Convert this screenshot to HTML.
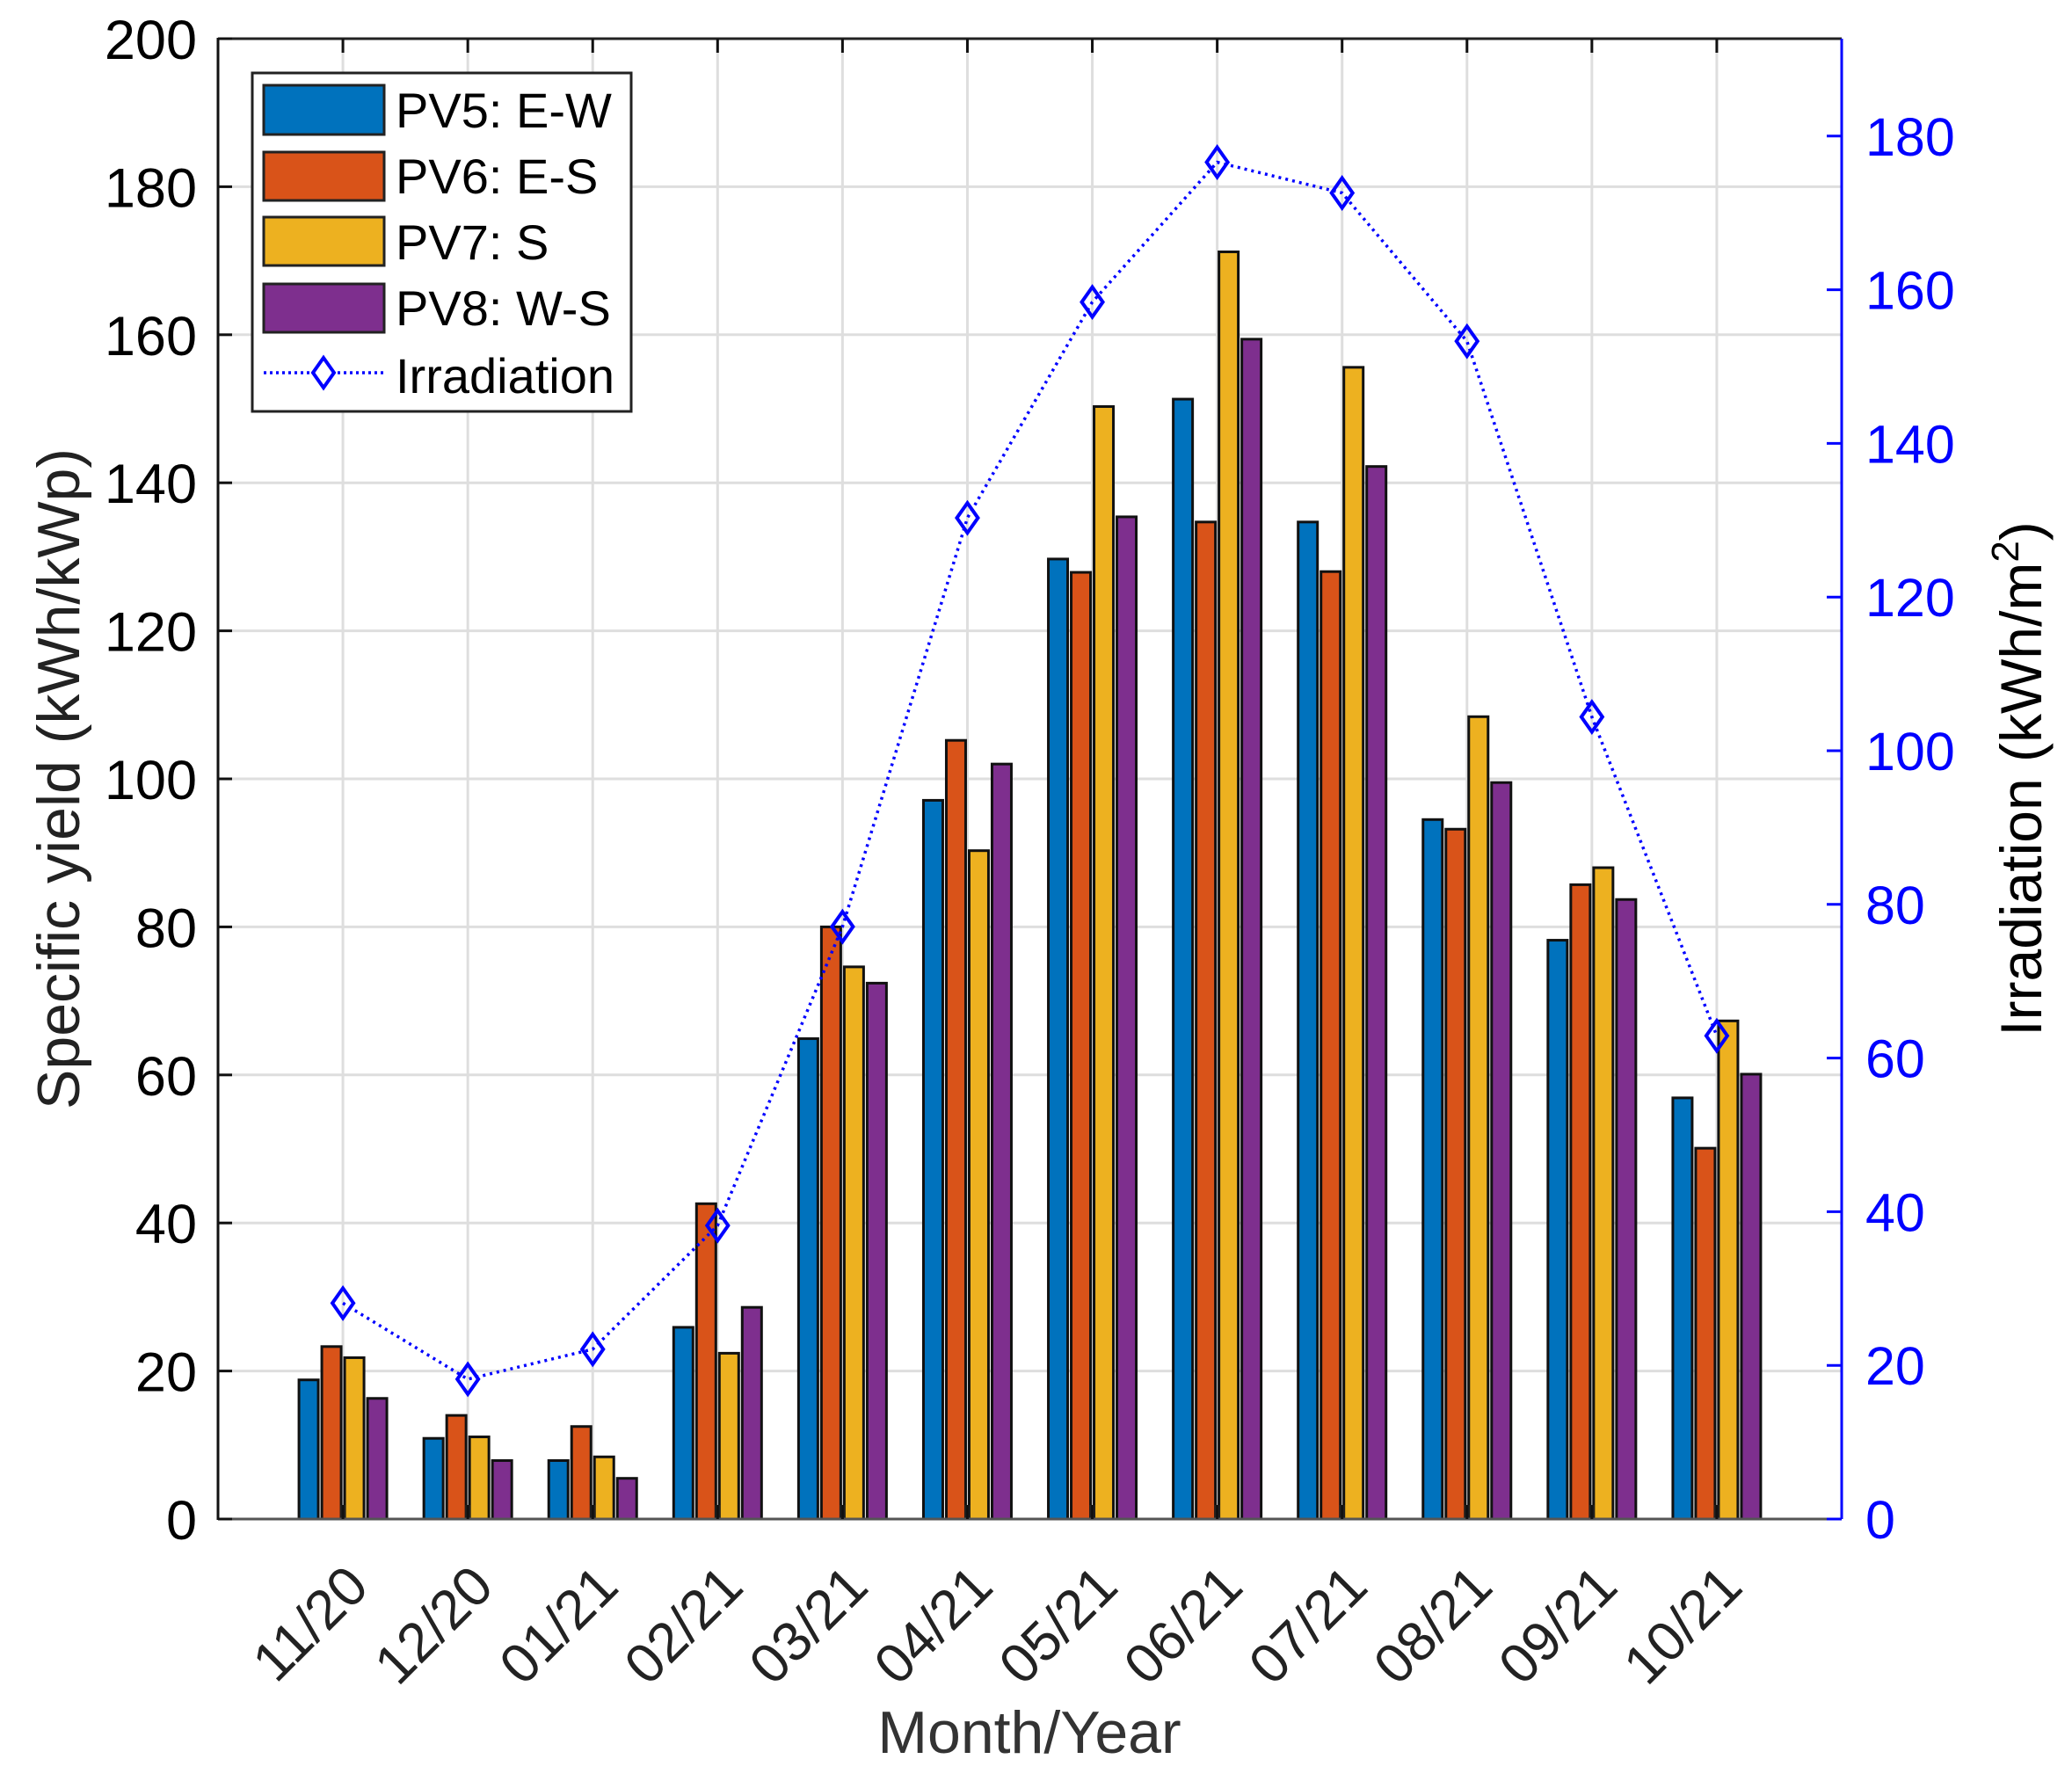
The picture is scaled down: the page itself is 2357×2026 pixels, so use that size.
<!DOCTYPE html>
<html><head><meta charset="utf-8"><style>
html,body{margin:0;padding:0;background:#fff;}
svg{display:block;font-family:"Liberation Sans",Arial,sans-serif;}
</style></head><body>
<svg id="c" width="2357" height="2026" viewBox="0 0 2357 2026" xmlns="http://www.w3.org/2000/svg">
<rect width="2357" height="2026" fill="#fff"/>
<g id="grid"></g>
<g id="bars"></g>
<g id="axes"></g>
<g id="line"></g>
<g id="labels"></g>
<g id="legend">
  <rect x="287" y="83" width="431" height="385" fill="#fff" stroke="#222" stroke-width="3"/>
  <rect x="300" y="97" width="137" height="56" fill="#0072BD" stroke="#222" stroke-width="3"/>
  <rect x="300" y="173" width="137" height="55" fill="#D95319" stroke="#222" stroke-width="3"/>
  <rect x="300" y="247" width="137" height="55" fill="#EDB120" stroke="#222" stroke-width="3"/>
  <rect x="300" y="323" width="137" height="55" fill="#7E2F8E" stroke="#222" stroke-width="3"/>
  <line x1="300" y1="424" x2="437" y2="424" stroke="#0000ff" stroke-width="3.5" stroke-dasharray="3,4"/>
  <polygon points="368,407 380,424 368,441 356,424" fill="#fff" stroke="#0000ff" stroke-width="4"/>
  <g font-size="56" fill="#000">
    <text x="450" y="145">PV5: E-W</text>
    <text x="450" y="220">PV6: E-S</text>
    <text x="450" y="295">PV7: S</text>
    <text x="450" y="370">PV8: W-S</text>
    <text x="450" y="447">Irradiation</text>
  </g>
</g>
</svg>
<script>
(function(){
var NS="http://www.w3.org/2000/svg";
function el(p,t,a,txt){var e=document.createElementNS(NS,t);for(var k in a)e.setAttribute(k,a[k]);if(txt!==undefined)e.textContent=txt;document.getElementById(p).appendChild(e);return e;}
var L=248,R=2095,T=44,B=1728;
var sy=(B-T)/200, sr=8.74, step=(R-L)/13;
function cx(i){return L+step*(i+1);}
function yl(v){return B-v*sy;}
function yr(v){return B-v*sr;}
for(var v=20;v<200;v+=20){el("grid","line",{x1:L,x2:R,y1:yl(v),y2:yl(v),stroke:"#dedede","stroke-width":3});}
for(var i=0;i<12;i++){el("grid","line",{x1:cx(i),x2:cx(i),y1:T,y2:B,stroke:"#dedede","stroke-width":3});}
var data=[[18.8,23.3,21.8,16.3],[10.9,14,11.1,7.9],[7.9,12.5,8.4,5.5],[25.9,42.6,22.4,28.6],[64.9,80,74.6,72.4],[97.1,105.2,90.3,102],[129.7,127.9,150.3,135.4],[151.3,134.7,171.2,159.4],[134.7,128,155.6,142.2],[94.5,93.2,108.4,99.5],[78.2,85.7,88,83.7],[56.9,50.1,67.3,60.1]];
var cols=["#0072BD","#D95319","#EDB120","#7E2F8E"];
var irr=[28.1,18.2,22.1,38.2,77.1,130.3,158.4,176.6,172.6,153.3,104.4,62.9];
var labs=["11/20","12/20","01/21","02/21","03/21","04/21","05/21","06/21","07/21","08/21","09/21","10/21"];
for(var i=0;i<12;i++){
  for(var j=0;j<4;j++){
    var c=cx(i)+(j-1.5)*26, w=22, y=yl(data[i][j]);
    el("bars","rect",{x:c-w/2,y:y,width:w,height:B-y,fill:cols[j],stroke:"#111","stroke-width":3});
  }
  el("bars","rect",{x:cx(i)-3,y:B-16,width:6,height:16,fill:"#222"});
}
el("axes","line",{x1:L,x2:R,y1:T,y2:T,stroke:"#222","stroke-width":3});
el("axes","line",{x1:L,x2:R,y1:B,y2:B,stroke:"#555","stroke-width":3});
el("axes","line",{x1:L,x2:L,y1:T-1,y2:B+1,stroke:"#111","stroke-width":3});
el("axes","line",{x1:R,x2:R,y1:T,y2:B,stroke:"#0000ff","stroke-width":3});
for(var v=0;v<=200;v+=20){
  el("axes","line",{x1:L,x2:L+16,y1:yl(v),y2:yl(v),stroke:"#111","stroke-width":3});
  el("labels","text",{x:224,y:yl(v)+23,"text-anchor":"end","font-size":63,fill:"#000"},String(v));
}
for(var v=0;v<=180;v+=20){
  el("axes","line",{x1:R-17,x2:R,y1:yr(v),y2:yr(v),stroke:"#0000ff","stroke-width":3});
  el("labels","text",{x:2122,y:yr(v)+22,"font-size":61,fill:"#0000ff"},String(v));
}
for(var i=0;i<12;i++){
  el("axes","line",{x1:cx(i),x2:cx(i),y1:T,y2:T+16,stroke:"#111","stroke-width":3});
  el("axes","line",{x1:cx(i),x2:cx(i),y1:B-16,y2:B,stroke:"#111","stroke-width":3});
  el("labels","text",{"text-anchor":"end","font-size":63,fill:"#222",transform:"translate("+(cx(i)+32)+",1808) rotate(-45)"},labs[i]);
}
var pts=[];for(var i=0;i<12;i++)pts.push(cx(i)+","+yr(irr[i]));
el("line","polyline",{points:pts.join(" "),fill:"none",stroke:"#0000ff","stroke-width":3.5,"stroke-dasharray":"3,5"});
for(var i=0;i<12;i++){var x=cx(i),y=yr(irr[i]);
  el("line","polygon",{points:x+","+(y-17)+" "+(x+12)+","+y+" "+x+","+(y+17)+" "+(x-12)+","+y,fill:"none",stroke:"#0000ff","stroke-width":4});}
el("labels","text",{"text-anchor":"middle","font-size":68,fill:"#222",transform:"translate(90,886) rotate(-90)"},"Specific yield (kWh/kWp)");
var t=el("labels","text",{"text-anchor":"middle","font-size":66,fill:"#000",transform:"translate(2322,886) rotate(-90)"},"Irradiation (kWh/m");
var s=document.createElementNS(NS,"tspan");s.setAttribute("dy","-26");s.setAttribute("font-size","44");s.textContent="2";t.appendChild(s);
var s2=document.createElementNS(NS,"tspan");s2.setAttribute("dy","26");s2.textContent=")";t.appendChild(s2);
el("labels","text",{x:1171,y:1994,"text-anchor":"middle","font-size":68,fill:"#333"},"Month/Year");
})();
</script>
</body></html>
